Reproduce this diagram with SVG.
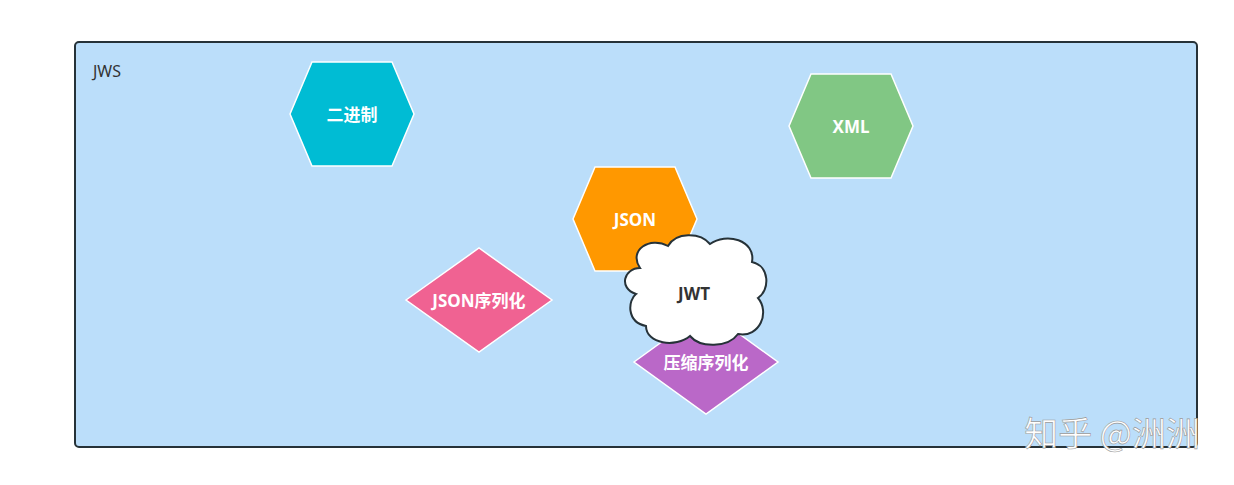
<svg xmlns="http://www.w3.org/2000/svg" width="1234" height="485" viewBox="0 0 1234 485">
<style>
.lbl{font-family:"Noto Sans","Noto Sans CJK SC",sans-serif;font-weight:bold;font-size:17px;fill:#fff;text-anchor:middle;dominant-baseline:central}
.sh{stroke:#fff;stroke-width:1.5}
</style>
<rect width="1234" height="485" fill="#fff"/>
<g id="jws">
<rect x="75" y="42" width="1122" height="405" rx="4" fill="#bbdefa" stroke="#263238" stroke-width="2"/>
<text x="93" y="77" font-family="Noto Sans,sans-serif" font-size="16" fill="#333">JWS</text>
</g>
<g id="binary"><polygon class="sh" fill="#00bcd4" points="290,114 312,62 392,62 414,114 392,166 312,166"/><text class="lbl" x="352" y="114">二进制</text></g>
<g id="xml"><polygon class="sh" fill="#81c784" points="789,126 811,74 891,74 913,126 891,178 811,178"/><text class="lbl" x="851" y="126">XML</text></g>
<g id="json"><polygon class="sh" fill="#ff9800" points="573,219 595,167 675,167 697,219 675,271 595,271"/><text class="lbl" x="635" y="219">JSON</text></g>
<g id="jsonser"><polygon class="sh" fill="#f06292" points="406,300 479,248 552,300 479,352"/><text class="lbl" x="479" y="300">JSON序列化</text></g>
<g id="compress"><polygon class="sh" fill="#ba68c8" points="634,362 706,310 778,362 706,414"/><text class="lbl" x="706" y="362">压缩序列化</text></g>
<g id="jwt">
<path d="M640,268 C628,250 650,236 668,246 C676,232 700,232 710,244 C726,232 756,240 752,262 C770,266 770,290 758,298 C770,312 760,338 738,334 C728,348 700,348 690,336 C676,348 646,344 646,326 C626,322 628,300 636,294 C618,288 624,268 640,268 Z" fill="#fff" stroke="#263238" stroke-width="2"/>
<text x="694" y="293" font-family="Noto Sans,sans-serif" font-weight="bold" font-size="17" fill="#333" text-anchor="middle" dominant-baseline="central">JWT</text>
</g>
<g id="connectors"/>
<text x="1200" y="446" font-family="Noto Sans CJK SC,sans-serif" font-size="34" fill="#fff" stroke="#999" stroke-width="0.6" text-anchor="end">知乎 @洲洲</text>
</svg>
